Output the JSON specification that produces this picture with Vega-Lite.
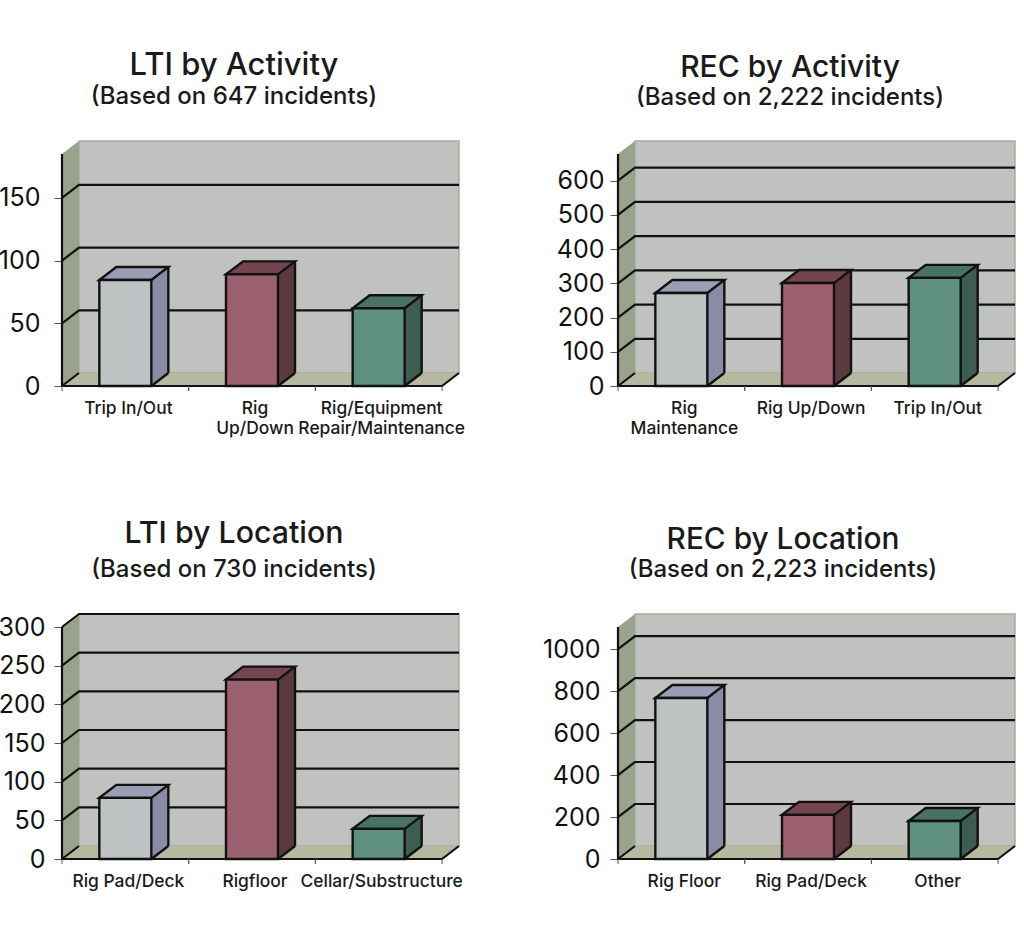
{"$schema":"https://vega.github.io/schema/vega-lite/v6.json","background":"white","padding":{"left":-3,"top":49,"right":0,"bottom":0},"bounds":"flush","columns":2,"spacing":{"row":241,"column":176},
"config":{"view":{"fill":"#c0c2c0","stroke":"#a9ac98","strokeWidth":1.5},"font":"Inter","axisX":{"title":null,"domain":false,"ticks":false,"labelAngle":0,"labelOffset":-14,"offset":13,"labelPadding":13,"labelFont":"Inter","labelFontSize":17.4,"labelFontWeight":500,"labelColor":"#1a1a1a","labelLimit":0,"labelOverlap":false,"labelLineHeight":20,"labelExpr":"split(datum.label,'|')","grid":false},"axisY":{"title":null,"domain":false,"grid":false,"tickColor":"#555","tickSize":8,"tickOffset":13,"offset":17,"labelOffset":0,"labelPadding":14,"labelFont":"Inter","labelFontSize":25,"labelColor":"#111","labelOverlap":false,"format":"d"},"title":{"anchor":"middle","font":"Inter","fontSize":31,"fontWeight":500,"color":"#1a1a1a","subtitleFont":"Inter","subtitleFontSize":24,"subtitleFontWeight":500,"subtitleColor":"#1a1a1a"}},
"concat":[
{"width":380,"height":232,"title":{"text":"LTI by Activity","subtitle":"(Based on 647 incidents)","dx":-35,"offset":31,"subtitlePadding":3},"resolve":{"scale":{"color":"independent"}},"encoding":{"x":{"field":"label","type":"nominal","sort":null,"scale":{"type":"band","paddingInner":0,"paddingOuter":0}},"y":{"field":"value","type":"quantitative","scale":{"domain":[0,185],"nice":false},"axis":{"values":[0,50,100,150]}}},"layer":[
{"data":{"values":[{"value":0}]},"mark":{"type":"point","shape":"M0 0 L-17 13 L-17 -219 L0 -232 Z","size":4,"filled":true,"fill":"#99a28c","opacity":1},"encoding":{"x":{"value":0}}},
{"data":{"values":[{"value":0}]},"mark":{"type":"point","shape":"M0 0 L380 0 L363 13 L-17 13 Z","size":4,"filled":true,"fill":"#b6b8a0","opacity":1},"encoding":{"x":{"value":0}}},
{"data":{"values":[{"value":50},{"value":100},{"value":150}]},"mark":{"type":"point","shape":"M380 0 L0 0 L-17 13","size":4,"filled":false,"stroke":"#111","strokeWidth":2.2,"opacity":1},"encoding":{"x":{"value":0}}},
{"data":{"values":[{"value":0}]},"mark":{"type":"point","shape":"M-17 -219 L-17 13 L363 13 L380 0 M0 0 L-17 13","size":4,"filled":false,"stroke":"#111","strokeWidth":2.2,"opacity":1},"encoding":{"x":{"value":0}}},
{"data":{"values":[{"label":"Trip In/Out","value":84.5},{"label":"Rig|Up/Down","value":89},{"label":"Rig/Equipment|Repair/Maintenance","value":62}]},"layer":[
{"mark":{"type":"point","shape":"M-80.3 13 v5 M46.4 13 v5","size":4,"filled":false,"stroke":"#555","strokeWidth":1,"opacity":1},"encoding":{"y":{"datum":0}}},
{"mark":{"type":"bar","width":17,"xOffset":17.5},"encoding":{"y2":{"datum":0},"color":{"field":"label","sort":null,"legend":null,"scale":{"range":["#8a8ca6","#5c393f","#3e5d50"]}}}},
{"mark":{"type":"point","shape":"M9 0 L26 0 L9 13 Z","size":4,"filled":true,"opacity":1},"encoding":{"y":{"datum":0},"color":{"field":"label","sort":null,"legend":null,"scale":{"range":["#8a8ca6","#5c393f","#3e5d50"]}}}},
{"mark":{"type":"point","shape":"M26 0 L9 13","size":4,"filled":false,"stroke":"#111","strokeWidth":2.4,"opacity":1},"encoding":{"y":{"datum":0}}},
{"mark":{"type":"rule","xOffset":26,"stroke":"#111","strokeWidth":2.4},"encoding":{"y2":{"datum":0}}},
{"mark":{"type":"point","shape":"M-43 13 L9 13 L26 0 L-26 0 Z","size":4,"filled":true,"stroke":"#111","strokeWidth":2.4,"opacity":1},"encoding":{"color":{"field":"label","sort":null,"legend":null,"scale":{"range":["#9b9db4","#744550","#4a7263"]}}}},
{"mark":{"type":"bar","width":52,"xOffset":-17,"yOffset":13,"y2Offset":13,"stroke":"#111","strokeWidth":2.4},"encoding":{"y2":{"datum":0},"color":{"field":"label","sort":null,"legend":null,"scale":{"range":["#bfc2c3","#9c6170","#5f9082"]}}}}
],"resolve":{"scale":{"color":"independent"}}}
]},
{"width":380,"height":232,"title":{"text":"REC by Activity","subtitle":"(Based on 2,222 incidents)","dx":-35,"offset":31,"subtitlePadding":3,"fontSize":30},"resolve":{"scale":{"color":"independent"}},"encoding":{"x":{"field":"label","type":"nominal","sort":null,"scale":{"type":"band","paddingInner":0,"paddingOuter":0}},"y":{"field":"value","type":"quantitative","scale":{"domain":[0,678],"nice":false},"axis":{"values":[0,100,200,300,400,500,600],"labelPadding":6}}},"layer":[
{"data":{"values":[{"value":0}]},"mark":{"type":"point","shape":"M0 0 L-17 13 L-17 -219 L0 -232 Z","size":4,"filled":true,"fill":"#99a28c","opacity":1},"encoding":{"x":{"value":0}}},
{"data":{"values":[{"value":0}]},"mark":{"type":"point","shape":"M0 0 L380 0 L363 13 L-17 13 Z","size":4,"filled":true,"fill":"#b6b8a0","opacity":1},"encoding":{"x":{"value":0}}},
{"data":{"values":[{"value":100},{"value":200},{"value":300},{"value":400},{"value":500},{"value":600}]},"mark":{"type":"point","shape":"M380 0 L0 0 L-17 13","size":4,"filled":false,"stroke":"#111","strokeWidth":2.2,"opacity":1},"encoding":{"x":{"value":0}}},
{"data":{"values":[{"value":0}]},"mark":{"type":"point","shape":"M-17 -219 L-17 13 L363 13 L380 0 M0 0 L-17 13","size":4,"filled":false,"stroke":"#111","strokeWidth":2.2,"opacity":1},"encoding":{"x":{"value":0}}},
{"data":{"values":[{"label":"Rig|Maintenance","value":272},{"label":"Rig Up/Down","value":301},{"label":"Trip In/Out","value":316}]},"layer":[
{"mark":{"type":"point","shape":"M-80.3 13 v5 M46.4 13 v5","size":4,"filled":false,"stroke":"#555","strokeWidth":1,"opacity":1},"encoding":{"y":{"datum":0}}},
{"mark":{"type":"bar","width":17,"xOffset":17.5},"encoding":{"y2":{"datum":0},"color":{"field":"label","sort":null,"legend":null,"scale":{"range":["#8a8ca6","#5c393f","#3e5d50"]}}}},
{"mark":{"type":"point","shape":"M9 0 L26 0 L9 13 Z","size":4,"filled":true,"opacity":1},"encoding":{"y":{"datum":0},"color":{"field":"label","sort":null,"legend":null,"scale":{"range":["#8a8ca6","#5c393f","#3e5d50"]}}}},
{"mark":{"type":"point","shape":"M26 0 L9 13","size":4,"filled":false,"stroke":"#111","strokeWidth":2.4,"opacity":1},"encoding":{"y":{"datum":0}}},
{"mark":{"type":"rule","xOffset":26,"stroke":"#111","strokeWidth":2.4},"encoding":{"y2":{"datum":0}}},
{"mark":{"type":"point","shape":"M-43 13 L9 13 L26 0 L-26 0 Z","size":4,"filled":true,"stroke":"#111","strokeWidth":2.4,"opacity":1},"encoding":{"color":{"field":"label","sort":null,"legend":null,"scale":{"range":["#9b9db4","#744550","#4a7263"]}}}},
{"mark":{"type":"bar","width":52,"xOffset":-17,"yOffset":13,"y2Offset":13,"stroke":"#111","strokeWidth":2.4},"encoding":{"y2":{"datum":0},"color":{"field":"label","sort":null,"legend":null,"scale":{"range":["#bfc2c3","#9c6170","#5f9082"]}}}}
],"resolve":{"scale":{"color":"independent"}}}
]},
{"width":380,"height":232,"title":{"text":"LTI by Location","subtitle":"(Based on 730 incidents)","dx":-35,"offset":28,"subtitlePadding":8,"fontSize":30.3},"resolve":{"scale":{"color":"independent"}},"encoding":{"x":{"field":"label","type":"nominal","sort":null,"scale":{"type":"band","paddingInner":0,"paddingOuter":0}},"y":{"field":"value","type":"quantitative","scale":{"domain":[0,300],"nice":false},"axis":{"values":[0,50,100,150,200,250,300],"labelPadding":9}}},"layer":[
{"data":{"values":[{"value":0}]},"mark":{"type":"point","shape":"M0 0 L-17 13 L-17 -219 L0 -232 Z","size":4,"filled":true,"fill":"#99a28c","opacity":1},"encoding":{"x":{"value":0}}},
{"data":{"values":[{"value":0}]},"mark":{"type":"point","shape":"M0 0 L380 0 L363 13 L-17 13 Z","size":4,"filled":true,"fill":"#b6b8a0","opacity":1},"encoding":{"x":{"value":0}}},
{"data":{"values":[{"value":50},{"value":100},{"value":150},{"value":200},{"value":250},{"value":300}]},"mark":{"type":"point","shape":"M380 0 L0 0 L-17 13","size":4,"filled":false,"stroke":"#111","strokeWidth":2.2,"opacity":1},"encoding":{"x":{"value":0}}},
{"data":{"values":[{"value":0}]},"mark":{"type":"point","shape":"M-17 -219 L-17 13 L363 13 L380 0 M0 0 L-17 13","size":4,"filled":false,"stroke":"#111","strokeWidth":2.2,"opacity":1},"encoding":{"x":{"value":0}}},
{"data":{"values":[{"label":"Rig Pad/Deck","value":79},{"label":"Rigfloor","value":232},{"label":"Cellar/Substructure","value":39}]},"layer":[
{"mark":{"type":"point","shape":"M-80.3 13 v5 M46.4 13 v5","size":4,"filled":false,"stroke":"#555","strokeWidth":1,"opacity":1},"encoding":{"y":{"datum":0}}},
{"mark":{"type":"bar","width":17,"xOffset":17.5},"encoding":{"y2":{"datum":0},"color":{"field":"label","sort":null,"legend":null,"scale":{"range":["#8a8ca6","#5c393f","#3e5d50"]}}}},
{"mark":{"type":"point","shape":"M9 0 L26 0 L9 13 Z","size":4,"filled":true,"opacity":1},"encoding":{"y":{"datum":0},"color":{"field":"label","sort":null,"legend":null,"scale":{"range":["#8a8ca6","#5c393f","#3e5d50"]}}}},
{"mark":{"type":"point","shape":"M26 0 L9 13","size":4,"filled":false,"stroke":"#111","strokeWidth":2.4,"opacity":1},"encoding":{"y":{"datum":0}}},
{"mark":{"type":"rule","xOffset":26,"stroke":"#111","strokeWidth":2.4},"encoding":{"y2":{"datum":0}}},
{"mark":{"type":"point","shape":"M-43 13 L9 13 L26 0 L-26 0 Z","size":4,"filled":true,"stroke":"#111","strokeWidth":2.4,"opacity":1},"encoding":{"color":{"field":"label","sort":null,"legend":null,"scale":{"range":["#9b9db4","#744550","#4a7263"]}}}},
{"mark":{"type":"bar","width":52,"xOffset":-17,"yOffset":13,"y2Offset":13,"stroke":"#111","strokeWidth":2.4},"encoding":{"y2":{"datum":0},"color":{"field":"label","sort":null,"legend":null,"scale":{"range":["#bfc2c3","#9c6170","#5f9082"]}}}}
],"resolve":{"scale":{"color":"independent"}}}
]},
{"width":380,"height":232,"title":{"text":"REC by Location","subtitle":"(Based on 2,223 incidents)","dx":-42,"offset":32,"subtitlePadding":3,"fontSize":29.8},"resolve":{"scale":{"color":"independent"}},"encoding":{"x":{"field":"label","type":"nominal","sort":null,"scale":{"type":"band","paddingInner":0,"paddingOuter":0}},"y":{"field":"value","type":"quantitative","scale":{"domain":[0,1105],"nice":false},"axis":{"values":[0,200,400,600,800,1000],"labelPadding":10}}},"layer":[
{"data":{"values":[{"value":0}]},"mark":{"type":"point","shape":"M0 0 L-17 13 L-17 -219 L0 -232 Z","size":4,"filled":true,"fill":"#99a28c","opacity":1},"encoding":{"x":{"value":0}}},
{"data":{"values":[{"value":0}]},"mark":{"type":"point","shape":"M0 0 L380 0 L363 13 L-17 13 Z","size":4,"filled":true,"fill":"#b6b8a0","opacity":1},"encoding":{"x":{"value":0}}},
{"data":{"values":[{"value":200},{"value":400},{"value":600},{"value":800},{"value":1000}]},"mark":{"type":"point","shape":"M380 0 L0 0 L-17 13","size":4,"filled":false,"stroke":"#111","strokeWidth":2.2,"opacity":1},"encoding":{"x":{"value":0}}},
{"data":{"values":[{"value":0}]},"mark":{"type":"point","shape":"M-17 -219 L-17 13 L363 13 L380 0 M0 0 L-17 13","size":4,"filled":false,"stroke":"#111","strokeWidth":2.2,"opacity":1},"encoding":{"x":{"value":0}}},
{"data":{"values":[{"label":"Rig Floor","value":767},{"label":"Rig Pad/Deck","value":210},{"label":"Other","value":181}]},"layer":[
{"mark":{"type":"point","shape":"M-80.3 13 v5 M46.4 13 v5","size":4,"filled":false,"stroke":"#555","strokeWidth":1,"opacity":1},"encoding":{"y":{"datum":0}}},
{"mark":{"type":"bar","width":17,"xOffset":17.5},"encoding":{"y2":{"datum":0},"color":{"field":"label","sort":null,"legend":null,"scale":{"range":["#8a8ca6","#5c393f","#3e5d50"]}}}},
{"mark":{"type":"point","shape":"M9 0 L26 0 L9 13 Z","size":4,"filled":true,"opacity":1},"encoding":{"y":{"datum":0},"color":{"field":"label","sort":null,"legend":null,"scale":{"range":["#8a8ca6","#5c393f","#3e5d50"]}}}},
{"mark":{"type":"point","shape":"M26 0 L9 13","size":4,"filled":false,"stroke":"#111","strokeWidth":2.4,"opacity":1},"encoding":{"y":{"datum":0}}},
{"mark":{"type":"rule","xOffset":26,"stroke":"#111","strokeWidth":2.4},"encoding":{"y2":{"datum":0}}},
{"mark":{"type":"point","shape":"M-43 13 L9 13 L26 0 L-26 0 Z","size":4,"filled":true,"stroke":"#111","strokeWidth":2.4,"opacity":1},"encoding":{"color":{"field":"label","sort":null,"legend":null,"scale":{"range":["#9b9db4","#744550","#4a7263"]}}}},
{"mark":{"type":"bar","width":52,"xOffset":-17,"yOffset":13,"y2Offset":13,"stroke":"#111","strokeWidth":2.4},"encoding":{"y2":{"datum":0},"color":{"field":"label","sort":null,"legend":null,"scale":{"range":["#bfc2c3","#9c6170","#5f9082"]}}}}
],"resolve":{"scale":{"color":"independent"}}}
]}
]}
